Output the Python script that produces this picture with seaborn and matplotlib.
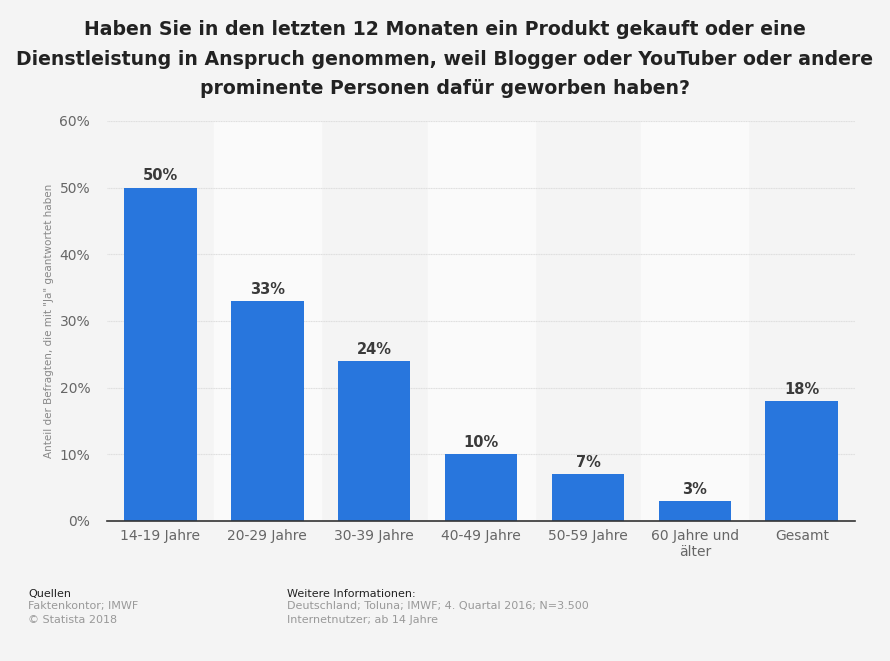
import matplotlib
matplotlib.use("Agg")
import matplotlib.pyplot as plt
import seaborn as sns
import pandas as pd

# Data
categories = ["14-19 Jahre", "20-29 Jahre", "30-39 Jahre", "40-49 Jahre",
              "50-59 Jahre", "60 Jahre und\nälter", "Gesamt"]
values = [50, 33, 24, 10, 7, 3, 18]
y_ticks = [0, 10, 20, 30, 40, 50, 60]

df = pd.DataFrame({"category": categories, "value": values})

sns.set_theme(style="white")
plt.rcParams['font.family'] = ['DejaVu Sans']

bg = "#f4f4f4"
fig = plt.figure(figsize=(8.9, 6.61), dpi=100, facecolor=bg)
ax = fig.add_axes([0.12, 0.212, 0.841, 0.605])
ax.set_facecolor(bg)

# alternating column bands
for i in range(len(categories)):
    if i % 2 == 1:
        ax.axvspan(i - 0.5, i + 0.5, color="#fafafa", zorder=0)

for t in y_ticks[1:]:
    ax.axhline(t, color="#dedede", lw=0.8, ls=(0, (1, 0.5)), zorder=1)

sns.barplot(data=df, x="category", y="value", color="#2876dd", width=0.68,
            saturation=1, edgecolor="none", linewidth=0, ax=ax, zorder=2)

for i, v in enumerate(values):
    ax.text(i, v + 0.65, f"{v}%", ha="center", va="bottom", fontsize=10.5,
            fontweight="bold", color="#3a3a3a")

ax.set_xlim(-0.5, len(categories) - 0.5)
ax.set_ylim(0, 60)
ax.set_yticks(y_ticks)
ax.set_yticklabels([f"{t}%" for t in y_ticks], fontsize=10, color="#666666")
ax.tick_params(axis="x", labelsize=10, labelcolor="#666666", length=0, pad=6)
ax.tick_params(axis="y", length=0, pad=12)
ax.set_xlabel("")
ax.set_ylabel('Anteil der Befragten, die mit "Ja" geantwortet haben',
              fontsize=7.5, color="#888888", labelpad=4)
for s in ["top", "right", "left"]:
    ax.spines[s].set_visible(False)
ax.spines["bottom"].set_color("#333333")
ax.spines["bottom"].set_linewidth(1.2)
ax.spines["bottom"].set_zorder(3)

fig.text(0.5, 0.969,
         "Haben Sie in den letzten 12 Monaten ein Produkt gekauft oder eine\n"
         "Dienstleistung in Anspruch genommen, weil Blogger oder YouTuber oder andere\n"
         "prominente Personen dafür geworben haben?",
         ha="center", va="top", fontsize=13.6, fontweight="bold",
         color="#222222", linespacing=1.7)

fig.text(0.032, 0.097, "Quellen", fontsize=8, color="#222222")
fig.text(0.032, 0.058, "Faktenkontor; IMWF\n© Statista 2018", fontsize=8,
         color="#999999", linespacing=1.5)
fig.text(0.323, 0.097, "Weitere Informationen:", fontsize=8, color="#222222")
fig.text(0.323, 0.058, "Deutschland; Toluna; IMWF; 4. Quartal 2016; N=3.500\n"
         "Internetnutzer; ab 14 Jahre", fontsize=8, color="#999999",
         linespacing=1.5)

fig.savefig("out.png", dpi=100, facecolor=bg)
